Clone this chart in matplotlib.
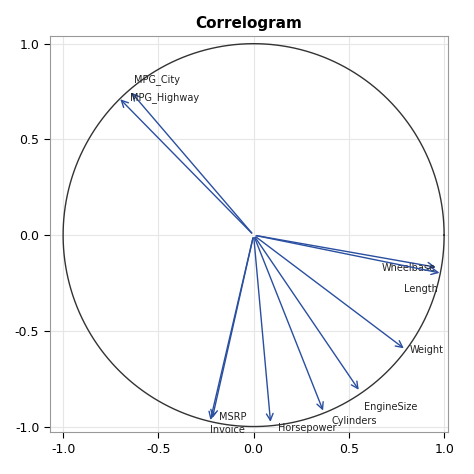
import matplotlib
matplotlib.use("Agg")
import matplotlib.pyplot as plt
import numpy as np

names = ["MPG_City","MPG_Highway","Wheelbase","Length","Weight","EngineSize","Cylinders","Horsepower","MSRP","Invoice"]
xs = [-0.65,-0.71,0.97,0.99,0.80,0.56,0.37,0.09,-0.22,-0.23]
ys = [0.755,0.72,-0.17,-0.20,-0.60,-0.82,-0.93,-0.99,-0.97,-0.98]
offs = {"MPG_City":(0.02,0.06,'left'),"MPG_Highway":(0.06,0.0,'left'),"Wheelbase":(-0.3,0.0,'left'),
        "Length":(-0.2,-0.08,'left'),"Weight":(0.02,0.0,'left'),"EngineSize":(0.02,-0.08,'left'),
        "Cylinders":(0.04,-0.04,'left'),"Horsepower":(0.04,-0.02,'left'),"MSRP":(0.04,0.02,'left'),"Invoice":(0.0,-0.04,'left')}

fig = plt.figure(figsize=(4.74,4.74), dpi=100)
ax = fig.add_axes([0.105,0.088,0.84,0.836])
t = np.linspace(0,2*np.pi,400)
ax.plot(np.cos(t), np.sin(t), color='#333333', lw=1)
for n,x,y in zip(names,xs,ys):
    ax.annotate("", xy=(x,y), xytext=(0,0),
                arrowprops=dict(arrowstyle='->', color='#2a4fa0', lw=1, mutation_scale=12))
    dx,dy,ha = offs[n]
    ax.text(x+dx, y+dy, n, fontsize=7, ha=ha, va='center', color='#222222')
ax.set_xlim(-1.07,1.02)
ax.set_ylim(-1.03,1.04)
ticks=[-1.0,-0.5,0.0,0.5,1.0]
ax.set_xticks(ticks); ax.set_yticks(ticks)
ax.set_xticklabels([f"{v:.1f}" for v in ticks]); ax.set_yticklabels([f"{v:.1f}" for v in ticks])
ax.tick_params(labelsize=9, length=4)
ax.grid(color='#e6e6e6', lw=0.8)
ax.set_axisbelow(True)
for s in ax.spines.values(): s.set_color('#999999')
ax.set_title("Correlogram", fontsize=11, fontweight='bold')
fig.savefig("out.png", dpi=100)
